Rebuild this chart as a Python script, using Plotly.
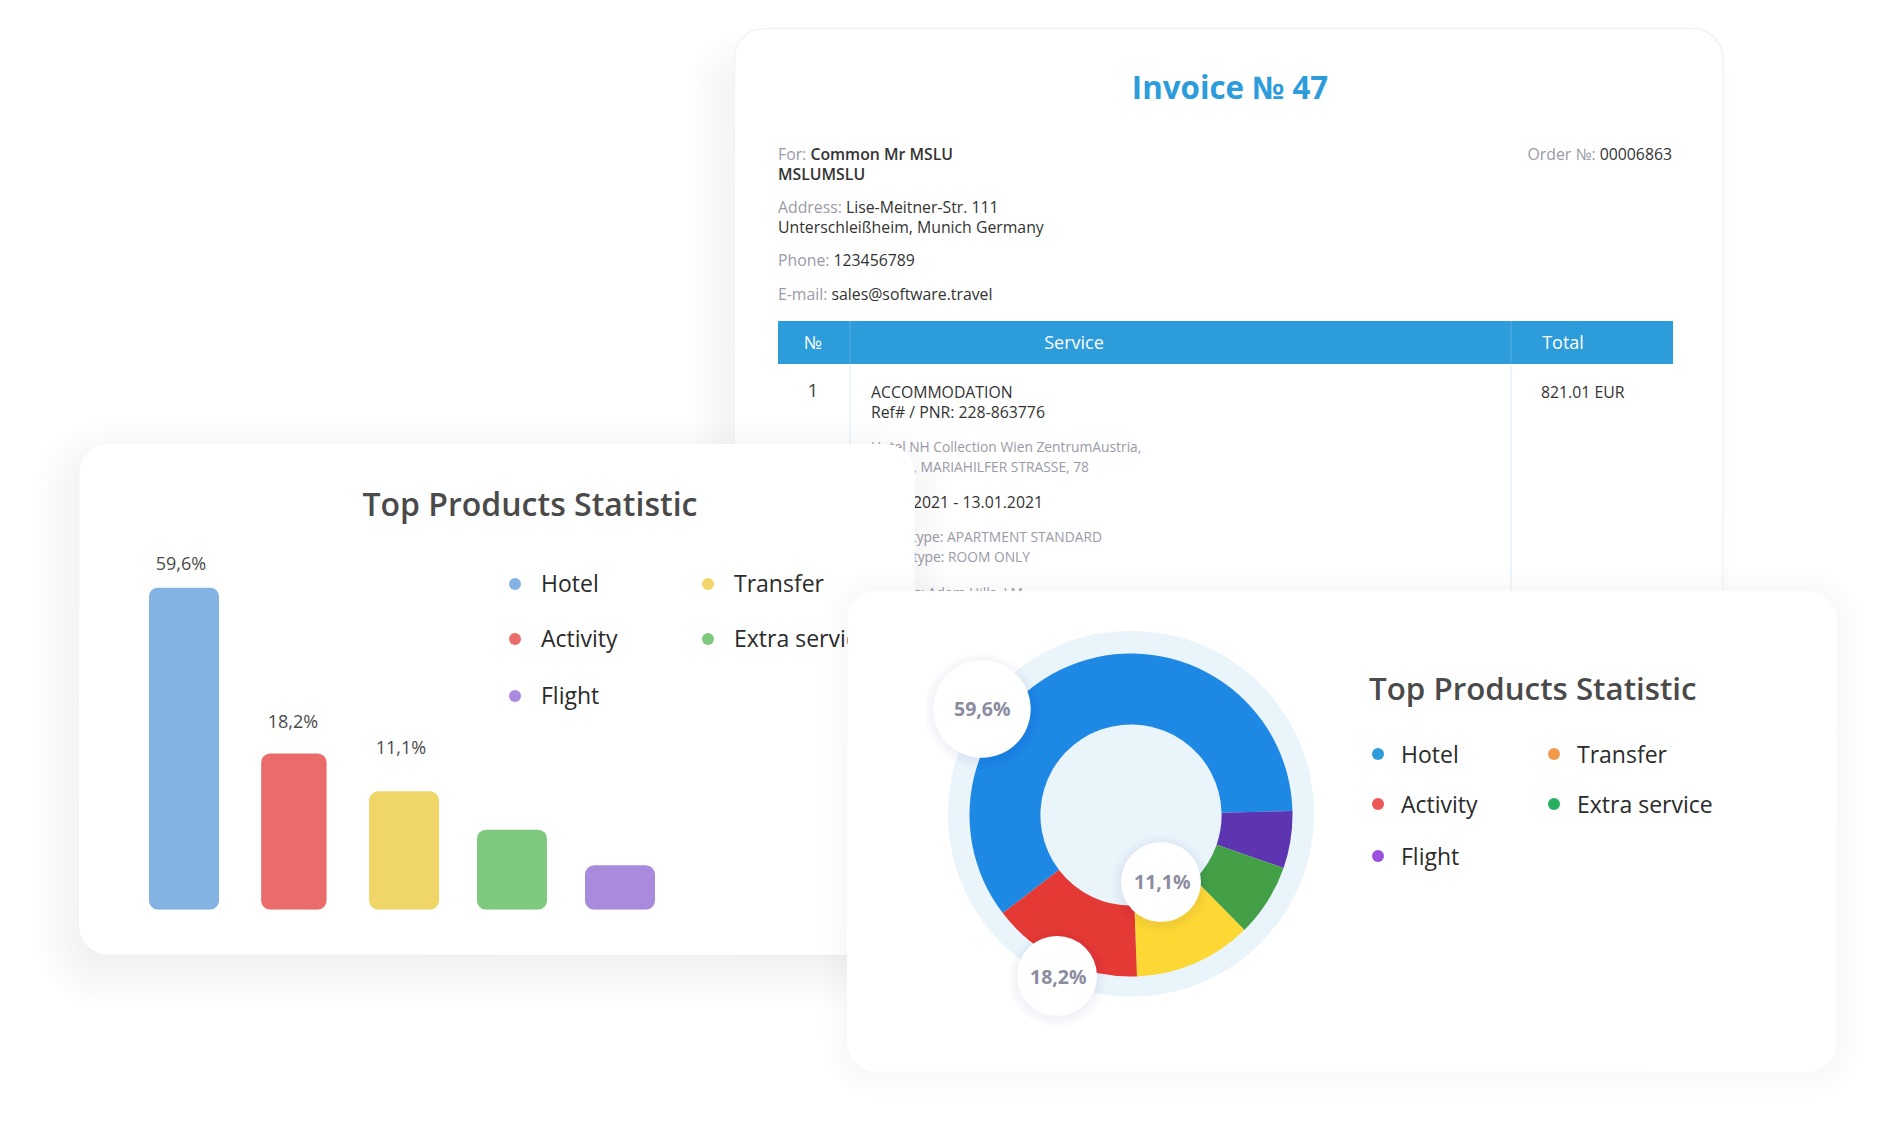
import math
import plotly.graph_objects as go

W = 1891
H = 1130
FONT = "Open Sans"

# bar chart values
bar_labels = ["Hotel", "Activity", "Transfer", "Extra service", "Flight"]
bar_heights = [59.6, 28.9, 21.9, 14.8, 8.2]
bar_texts = ["59,6%", "18,2%", "11,1%"]
bar_colors = ["#82b3e3", "#e96c6a", "#f0d668", "#7fc97f", "#a98bde"]

# donut values, clockwise from the blue slice
donut_labels = ["Hotel", "Flight", "Extra service", "Transfer", "Activity"]
donut_values = [60.0, 5.7, 7.3, 11.8, 15.2]
donut_colors = ["#1e88e5", "#5e35b1", "#43a047", "#fdd835", "#e53935"]
donut_badges = ["59,6%", "18,2%", "11,1%"]

legend_labels = ["Hotel", "Activity", "Transfer", "Extra service", "Flight"]
legend_dots = ["#2d9cdb", "#eb5757", "#f2994a", "#27ae60", "#9b51e0"]


def rounded(x0, y0, x1, y1, r):
    xs, ys = [], []
    corners = [(x1 - r, y0 + r, -90), (x1 - r, y1 - r, 0), (x0 + r, y1 - r, 90), (x0 + r, y0 + r, 180)]
    for cx, cy, start in corners:
        for i in range(9):
            a = math.radians(start + i * 90 / 8)
            xs.append(cx + r * math.cos(a))
            ys.append(cy + r * math.sin(a))
    xs.append(xs[0])
    ys.append(ys[0])
    return xs, ys


def poly(box, r, color, xa="x", ya="y", border=None):
    xs, ys = rounded(box[0], box[1], box[2], box[3], r)
    edge = dict(width=1.5, color=border) if border else dict(width=0)
    return go.Scatter(x=xs, y=ys, xaxis=xa, yaxis=ya, mode="lines", fill="toself", fillcolor=color,
                      line=edge, hoverinfo="skip", showlegend=False)


def card(box, r, grow, dx, dy, alpha, layers, xa="x", ya="y", border=None):
    # soft shadow from a stack of faint rounded boxes, the white card on top
    out = []
    for i in range(layers):
        s = grow[1] - (grow[1] - grow[0]) * i / (layers - 1)
        b = (box[0] - s + dx, box[1] - s + dy, box[2] + s + dx, box[3] + s + dy)
        out.append(poly(b, max(r + s, 6), "rgba(30,30,40,%.5f)" % (alpha / layers), xa, ya))
    out.append(poly(box, r, "#ffffff", xa, ya, border))
    return out


def label(xs, ys, texts, size, color, pos="middle right", weight=400, xa="x", ya="y"):
    # scatter text sits a little high against the middle of the line
    ys = [y + 1 + size * 0.08 for y in ys]
    return go.Scatter(x=xs, y=ys, text=texts, xaxis=xa, yaxis=ya, mode="text", textposition=pos,
                      textfont=dict(family=FONT, size=size, color=color, weight=weight),
                      hoverinfo="skip", showlegend=False, cliponaxis=False)


def dots(xs, ys, colors, xa="x", ya="y"):
    return go.Scatter(x=xs, y=ys, xaxis=xa, yaxis=ya, mode="markers",
                      marker=dict(size=12, color=colors, line=dict(width=0)),
                      hoverinfo="skip", showlegend=False)


def kv(key, val, weight=400):
    return '<span style="color:#9a9aa8">%s</span> <span style="font-weight:%d">%s</span>' % (key, weight, val)


def line(x0, y0, x1, y1, color, width=1.5):
    return go.Scatter(x=[x0, x1], y=[y0, y1], mode="lines", line=dict(color=color, width=width),
                      hoverinfo="skip", showlegend=False)


traces = []

# invoice card, back layer
traces += card((734, 28.5, 1723, 900), 30, (-30, 28), -18, 30, 0.045, 14, border="#f3f3f3")
traces.append(poly((778, 321, 1673, 364), 0, "#2d9cdb"))
traces.append(line(850, 321, 850, 364, "#4aa8df"))
traces.append(line(1511, 321, 1511, 364, "#4aa8df"))
traces.append(line(850, 364, 850, 900, "#e6f2fa"))
traces.append(line(1511, 364, 1511, 900, "#e6f2fa"))
traces.append(label([1230], [88], ["Invoice № 47"], 31.3, "#2d9cdb", "middle center", 700))
traces.append(label([778, 778, 778, 778, 778, 778], [154, 174, 207, 227, 260, 294],
                    [kv("For:", "Common Mr MSLU", 600),
                     '<span style="font-weight:600">MSLUMSLU</span>',
                     kv("Address:", "Lise-Meitner-Str. 111"),
                     "Unterschleißheim, Munich Germany",
                     kv("Phone:", "123456789"),
                     kv("E-mail:", "sales@software.travel")], 15.8, "#333333"))
traces.append(label([1672], [154], [kv("Order №:", "00006863")], 15.8, "#333333", "middle left"))
traces.append(label([813, 1074, 1563], [342, 342, 342], ["№", "Service", "Total"], 18, "#ffffff", "middle center", 500))
traces.append(label([813], [390], ["1"], 19, "#444444", "middle center"))
traces.append(label([871, 871, 1541], [392, 412, 392], ["ACCOMMODATION", "Ref# / PNR: 228-863776", "821.01 EUR"], 15.8, "#333333"))
traces.append(label([871], [446], ["Hotel NH Collection Wien ZentrumAustria,"], 13.8, "#9a9aa8"))
traces.append(label([1089, 1102, 1030, 1023], [466, 536, 556, 592],
                    [", MARIAHILFER STRASSE, 78", "type: APARTMENT STANDARD", "type: ROOM ONLY", "s: Adam Hills, LM"],
                    13.8, "#9a9aa8", "middle left"))
traces.append(label([1043], [502], ["2021 - 13.01.2021"], 15.8, "#333333", "middle left"))

# bar card sits over the invoice
traces += card((79, 444, 915, 955), 30, (-22, 38), -5, 15, 0.06, 16)
traces.append(label([530], [504], ["Top Products Statistic"], 32, "#4a4a4a", "middle center", 600))
traces.append(label([181, 293, 401], [563, 721, 747], bar_texts, 18, "#4a4a4a", "middle center"))
traces.append(dots([515, 515, 708, 708, 515], [584, 639, 584, 639, 696], bar_colors))
traces.append(label([541, 541, 734, 734, 541], [583, 638, 583, 638, 695], legend_labels, 23, "#2b2b2b"))

# a defined base makes plotly round both ends of the bars
bar_width = [0.642, 0.6, 0.642, 0.642, 0.642]
bar_nudge = [0, 0.008, 0.019, 0.009, 0]
traces.append(go.Bar(x=bar_labels, y=bar_heights, base=[0] * 5, xaxis="x2", yaxis="y2", width=bar_width,
                     offset=[n - w / 2 for n, w in zip(bar_nudge, bar_width)],
                     marker=dict(color=bar_colors, line=dict(width=0), cornerradius=9),
                     hoverinfo="skip", showlegend=False))

# donut card, top layer
traces += card((847, 591, 1837, 1072), 30, (-22, 24), 0, 2, 0.035, 12, "x3", "y3")
traces.append(label([1369], [689], ["Top Products Statistic"], 31.3, "#4a4a4a", "middle right", 600, "x3", "y3"))
traces.append(dots([1378, 1378, 1554, 1554, 1378], [754, 804, 754, 804, 856], legend_dots, "x3", "y3"))
traces.append(label([1401, 1401, 1577, 1577, 1401], [754, 804, 754, 804, 856], legend_labels, 23, "#2b2b2b",
                    "middle right", 400, "x3", "y3"))


def pie_domain(cx, cy, r):
    return dict(x=[(cx - r) / W, (cx + r) / W], y=[1 - (cy + r) / H, 1 - (cy - r) / H])


traces.append(go.Pie(values=[1], domain=pie_domain(1131, 813.7, 183), marker=dict(colors=["#eaf4fb"], line=dict(width=0)),
                     textinfo="none", hoverinfo="skip", showlegend=False, sort=False))
traces.append(go.Pie(labels=donut_labels, values=donut_values, domain=pie_domain(1131, 815, 161.5), hole=0.561,
                     rotation=232.6, direction="clockwise", sort=False,
                     marker=dict(colors=donut_colors, line=dict(width=0)),
                     textinfo="none", hoverinfo="skip", showlegend=False))

# white badges over the donut
badge_x = [982, 1057, 1161]
badge_y = [709, 976, 882]
badge_r = [48.7, 40, 40]
shapes = []
for bx, by, br in zip(badge_x, badge_y, badge_r):
    for i in range(6, 0, -1):
        s = i * 1.6
        shapes.append(dict(type="circle", xref="paper", yref="paper", layer="above", line=dict(width=0),
                           x0=(bx - br - s) / W, x1=(bx + br + s) / W,
                           y0=1 - (by + br + s + 2) / H, y1=1 - (by - br - s + 2) / H,
                           fillcolor="rgba(40,50,70,0.006)"))
    shapes.append(dict(type="circle", xref="paper", yref="paper", layer="above", line=dict(width=0),
                       x0=(bx - br) / W, x1=(bx + br) / W, y0=1 - (by + br) / H, y1=1 - (by - br) / H,
                       fillcolor="#ffffff"))

annotations = []
for text, bx, by in zip(donut_badges, [982.5, 1058, 1162], [708, 976, 882]):
    annotations.append(dict(text="<b>%s</b>" % text, x=bx / W, y=1 - by / H, xref="paper", yref="paper",
                            xanchor="center", yanchor="middle", showarrow=False,
                            font=dict(family=FONT, size=19.5, color="#8c8ca1")))

hidden = dict(visible=False, fixedrange=True)
fig = go.Figure(data=traces)
fig.update_layout(
    width=W, height=H,
    margin=dict(l=0, r=0, t=0, b=0),
    paper_bgcolor="#ffffff", plot_bgcolor="rgba(0,0,0,0)",
    barmode="overlay", showlegend=False,
    shapes=shapes, annotations=annotations,
    xaxis=dict(range=[0, W], domain=[0, 1], **hidden),
    yaxis=dict(range=[H, 0], domain=[0, 1], **hidden),
    xaxis2=dict(type="category", categoryorder="array", categoryarray=bar_labels,
                domain=[129.5 / W, 674.5 / W], anchor="y2", **hidden),
    yaxis2=dict(range=[0, 59.6], domain=[1 - 909.7 / H, 1 - 587.4 / H], anchor="x2", **hidden),
    xaxis3=dict(range=[0, W], domain=[0, 1], anchor="y3", **hidden),
    yaxis3=dict(range=[H, 0], domain=[0, 1], anchor="x3", **hidden),
)
fig.write_html("out.html", config=dict(displayModeBar=False), post_script="document.body.style.margin='0';")
